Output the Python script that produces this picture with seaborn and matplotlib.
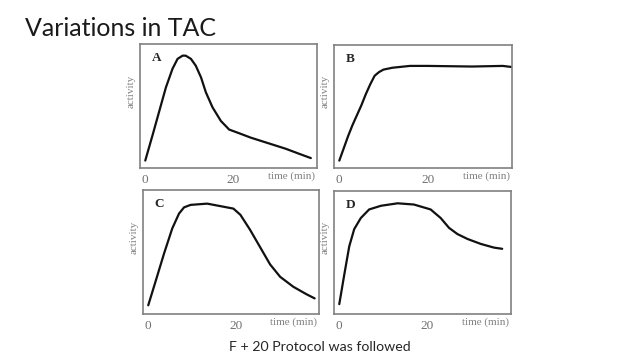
import pandas as pd
import matplotlib
matplotlib.use('Agg')
import matplotlib.pyplot as plt
import seaborn as sns

# values (time in min, activity 0..1 of the box height)
time_a = [0, 1.7, 3.2, 4.7, 6.2, 7.35, 8.5, 9.2, 10.4, 11.5, 12.7, 13.8, 15.3, 17.2, 19.1, 21.4,
          24, 28, 32, 35, 37.7]
act_a = [0.06, 0.27, 0.46, 0.65, 0.80, 0.88, 0.906, 0.906, 0.88, 0.825, 0.73, 0.61, 0.49, 0.38, 0.31, 0.28,
         0.245, 0.20, 0.155, 0.115, 0.08]

time_b = [0, 1, 2, 3, 4, 5, 6, 7, 8, 9, 10, 12, 16, 20, 30, 37, 39.3]
act_b = [0.06, 0.16, 0.26, 0.35, 0.43, 0.51, 0.60, 0.68, 0.75, 0.78, 0.80, 0.815, 0.83, 0.83, 0.825, 0.83, 0.82]

time_c = [0, 1.74, 3.64, 5.5, 7.05, 8.2, 9.7, 13.5, 16.5, 19.5, 21.1, 23.3, 25.6, 27.9, 30.2, 33.2, 36.2, 38.1]
act_c = [0.07, 0.27, 0.49, 0.69, 0.81, 0.86, 0.88, 0.89, 0.87, 0.85, 0.80, 0.68, 0.54, 0.40, 0.30, 0.22, 0.16, 0.126]

time_d = [0, 1.14, 2.27, 3.4, 4.9, 6.8, 9.5, 13.3, 17.0, 20.8, 23.1, 25.0, 26.9, 29.2, 32.2, 35.2, 37.1]
act_d = [0.08, 0.32, 0.55, 0.69, 0.78, 0.85, 0.88, 0.90, 0.89, 0.85, 0.78, 0.70, 0.65, 0.61, 0.57, 0.54, 0.53]

panel_labels = ['A', 'B', 'C', 'D']
x_ticks = [0, 20]

sns.set_style('white')
plt.rcParams['font.family'] = ['Lato', 'DejaVu Sans']
plt.rcParams['lines.solid_joinstyle'] = 'round'

W, H = 638, 359
fig = plt.figure(figsize=(W / 100, H / 100), dpi=100)

# boxes in pixels: x0, x1, y0 (top), y1 (bottom)
boxes = [(140, 317, 44, 168), (334, 512, 45, 168), (143, 319, 190, 314), (334, 511, 191, 314)]
series = [(time_a, act_a), (time_b, act_b), (time_c, act_c), (time_d, act_d)]
grey = '#808080'
serif = ['Liberation Serif', 'DejaVu Serif']

for (x0, x1, y0, y1), (t, a), lab in zip(boxes, series, panel_labels):
    ax = fig.add_axes([x0 / W, 1 - y1 / H, (x1 - x0) / W, (y1 - y0) / H])
    df = pd.DataFrame({'time': t, 'activity': a})
    sns.lineplot(data=df, x='time', y='activity', ax=ax, color='#111111', linewidth=1.6)
    ax.set_xlim(-1.2, 39.1)
    ax.set_ylim(0, 1)
    ax.set_xticks(x_ticks)
    ax.set_xticklabels([str(v) for v in x_ticks], family=serif, fontsize=9.5, color='#707070')
    ax.tick_params(axis='x', direction='inout', length=9, width=1, color=grey, pad=0)
    ax.set_yticks([])
    ax.set_xlabel('')
    ax.set_ylabel('')
    for s in ax.spines.values():
        s.set_color(grey)
        s.set_linewidth(1.2)
    ax.text(0.065, 0.86, lab, transform=ax.transAxes, family=serif, fontweight='bold', fontsize=9.5)
    ax.text(-0.05, 0.62, 'activity', transform=ax.transAxes, family=serif, fontsize=8,
            color=grey, rotation=90, ha='center', va='center')
    ax.text(0.99, -0.03, 'time (min)', transform=ax.transAxes, family=serif, fontsize=8,
            color=grey, ha='right', va='top')

fig.text(25 / W, 1 - 36 / H, 'Variations in TAC', fontsize=18,
         color='#1a1a1a', ha='left', va='baseline')
fig.text(320 / W, 1 - 351 / H, 'F + 20 Protocol was followed', fontsize=10.2, ha='center', va='baseline')

fig.savefig('out.png', dpi=100)
